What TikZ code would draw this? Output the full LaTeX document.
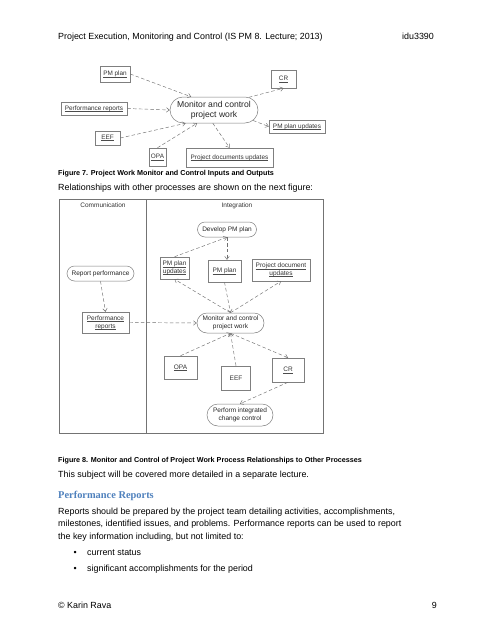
\documentclass[tikz,border=0pt]{standalone}
\usepackage{fontspec}
\setmainfont{Liberation Sans}
\newfontfamily\headserif{Liberation Serif}
\usetikzlibrary{arrows.meta,shapes.misc}
\definecolor{boxgray}{HTML}{7F7F7F}
\definecolor{linegray}{HTML}{6F6F6F}
\definecolor{headblue}{HTML}{4F81BD}
\newsavebox{\ulbox}
\newcommand{\ul}[1]{\sbox{\ulbox}{#1}\rlap{\lower0.9pt\hbox{\color{black!70}\vrule width\wd\ulbox height0pt depth0.35pt}}\usebox{\ulbox}}
\tikzset{
  box/.style={draw=boxgray, line width=0.5pt, inner sep=0pt, align=center, font=\fontsize{6.4}{7.2}\selectfont, text=black!80},
  boxb/.style={draw=boxgray, line width=0.5pt, inner sep=0pt, align=center, font=\fontsize{6.5}{7.8}\selectfont, text=black!80},
  proc/.style={draw=boxgray, line width=0.5pt, rounded rectangle, inner sep=0pt, align=center, text=black!85},
  flow/.style={draw=linegray, line width=0.45pt, dash pattern=on 3.5pt off 2.3pt, -{Straight Barb[length=3pt,width=4.5pt]}},
  bodytext/.style={anchor=base west, inner sep=0pt, font=\fontsize{8.9}{10}\selectfont},
  captext/.style={anchor=base west, inner sep=0pt, font=\fontsize{7.2}{8}\selectfont\bfseries},
  frameline/.style={draw=black!55, line width=0.6pt}
}
\begin{document}
\begin{tikzpicture}[x=1pt,y=1pt]
\useasboundingbox[fill=white] (0,0) rectangle (495,-640);
% header
\node[bodytext] (hdr) at (58,-39.5) {Project Execution, Monitoring and Control (IS PM 8. Lecture; 2013)};
\node[bodytext] (idu) at (402,-39.5) {idu3390};

% ---------- Figure 7 ----------
\node[box, minimum width=30pt, minimum height=16pt] (pm1) at (115,-74) {\ul{PM plan}};
\node[box, minimum width=66pt, minimum height=13pt] (perf1) at (94,-108.5) {\ul{Performance reports}};
\node[box, minimum width=25pt, minimum height=14pt] (eef1) at (107.5,-138) {\ul{EEF}};
\node[box, minimum width=17pt, minimum height=18pt] (opa1) at (157.5,-157) {\ul{OPA}};
\node[box, minimum width=87pt, minimum height=19pt] (pdu1) at (229.5,-157.5) {\ul{Project documents updates}};
\node[proc, minimum width=88pt, minimum height=26pt, font=\fontsize{8.6}{9.8}\selectfont] (mon1) at (214,-110) {Monitor and control\\project work};
\node[box, minimum width=25pt, minimum height=18pt] (cr1) at (283.5,-79) {\ul{CR}};
\node[box, minimum width=56pt, minimum height=13pt] (pmu1) at (297,-126.5) {\ul{PM plan updates}};

\draw[flow] (pm1.east) -- (mon1.150);
\draw[flow] (perf1.east) -- (mon1.west);
\draw[flow] (eef1.east) -- (mon1.205);
\draw[flow] (opa1.north) -- (mon1.218);
\draw[flow] (mon1.265) -- (pdu1.north);
\draw[flow] (mon1.20) -- (cr1.south);
\draw[flow] (mon1.-15) -- (pmu1.west);

\node[captext] (cap7) at (58,-175.8) {Figure 7. Project Work Monitor and Control Inputs and Outputs};
\node[bodytext] (rel) at (58,-190) {Relationships with other processes are shown on the next figure:};

% ---------- Figure 8 ----------
\node[frameline, draw, minimum width=264pt, minimum height=234pt, inner sep=0pt] (frm) at (191,-316) {};
\draw[frameline] (146,-199) coordinate (divtop) -- (146,-433) coordinate (divbot);
\node[inner sep=0pt, font=\fontsize{6.5}{7.6}\selectfont, text=black!80] (comm) at (103,-205.5) {Communication};
\node[inner sep=0pt, font=\fontsize{6.5}{7.6}\selectfont, text=black!80] (integ) at (237,-205.5) {Integration};

\node[proc, minimum width=59pt, minimum height=15pt, font=\fontsize{6.5}{7.6}\selectfont] (dev) at (227,-229.5) {Develop PM plan};
\node[boxb, minimum width=29pt, minimum height=22pt] (pmu2) at (174.5,-268) {\ul{PM plan}\\\ul{updates}};
\node[boxb, minimum width=33pt, minimum height=22pt] (pm2) at (224.5,-271) {\ul{PM plan}};
\node[boxb, minimum width=58pt, minimum height=22pt] (pdu2) at (281,-270) {\ul{Project document}\\\ul{updates}};
\node[proc, minimum width=67pt, minimum height=20pt, font=\fontsize{6.5}{7.6}\selectfont] (mon2) at (230.5,-323) {Monitor and control\\project work};
\node[proc, minimum width=67pt, minimum height=15pt, font=\fontsize{6.5}{7.6}\selectfont] (rep) at (100.5,-273.5) {Report performance};
\node[boxb, minimum width=47pt, minimum height=21pt] (perf2) at (105.5,-322.5) {\ul{Performance}\\\ul{reports}};
\node[boxb, minimum width=33pt, minimum height=23pt] (opa2) at (180.5,-367.5) {\ul{OPA}};
\node[boxb, minimum width=29pt, minimum height=24pt] (eef2) at (236,-378) {EEF};
\node[boxb, minimum width=32pt, minimum height=24pt] (cr2) at (288,-370) {\ul{CR}};
\node[proc, minimum width=66pt, minimum height=22pt, font=\fontsize{6.5}{7.6}\selectfont] (pic) at (240,-415) {Perform integrated\\change control};

\draw[flow] (dev.south) -- (dev.south |- pm2.north);
\draw[flow] (pmu2.north) -- (dev.south);
\draw[flow] (mon2.north) -- (pmu2.south);
\draw[flow] (pm2.south) -- (mon2.north);
\draw[flow] (mon2.north) -- (pdu2.south);
\draw[flow] (perf2.east) -- (mon2.west);
\draw[flow] (rep.south) -- (perf2.north);
\draw[flow] (opa2.north) -- (mon2.south);
\draw[flow] (eef2.north) -- (mon2.south);
\draw[flow] (mon2.south) -- (cr2.north);
\draw[flow] (cr2.south) -- (pic.north);

% ---------- text below ----------
\node[captext] (cap8) at (58,-462.6) {Figure 8. Monitor and Control of Project Work Process Relationships to Other Processes};
\node[bodytext] (subj) at (58,-477.3) {This subject will be covered more detailed in a separate lecture.};
\node[anchor=base west, inner sep=0pt, font=\headserif\fontsize{10.4}{12}\selectfont\bfseries, text=headblue] (perfh) at (58,-498.5) {Performance Reports};
\node[bodytext] (p1) at (58,-514) {Reports should be prepared by the project team detailing activities, accomplishments,};
\node[bodytext] (p2) at (58,-526.7) {milestones, identified issues, and problems. Performance reports can be used to report};
\node[bodytext] (p3) at (58,-539.4) {the key information including, but not limited to:};
\node[bodytext] (b1) at (73.5,-555) {\textbullet};
\node[bodytext] (t1) at (87,-555) {current status};
\node[bodytext] (b2) at (73.5,-571) {\textbullet};
\node[bodytext] (t2) at (87,-571) {significant accomplishments for the period};
\node[bodytext] (foot) at (58,-608.5) {\textcopyright{} Karin Rava};
\node[anchor=base east, inner sep=0pt, font=\fontsize{8.9}{10}\selectfont] (pg) at (437,-608.5) {9};
\end{tikzpicture}
\end{document}
